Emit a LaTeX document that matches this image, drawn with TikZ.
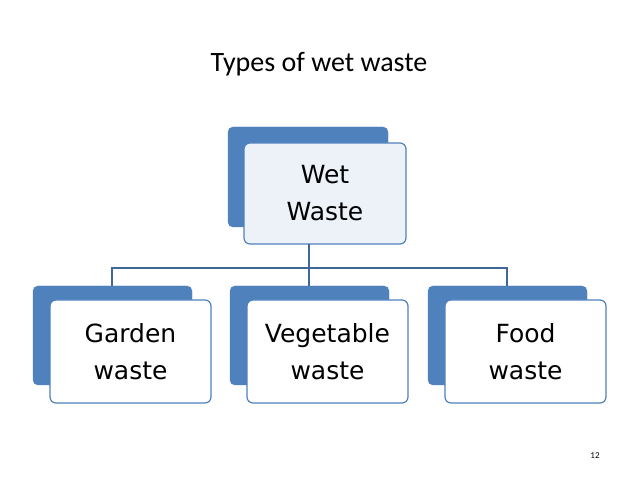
\documentclass[tikz,border=0pt]{standalone}
\usepackage{fontspec}
\setmainfont{Carlito}
\newfontfamily\boxfont{DejaVu Sans}
\definecolor{bl}{HTML}{4F81BD}
\definecolor{lt}{HTML}{EDF2F9}
\begin{document}
\begin{tikzpicture}[x=1pt,y=-1pt,
  backbox/.style={fill=bl,draw=bl,rounded corners=5pt},
  frontbox/.style={draw=bl,line width=1.2pt,rounded corners=6pt,align=center,font=\boxfont\fontsize{25}{37}\selectfont,inner sep=0pt},
  conn/.style={draw=bl!80!black,line width=1.5pt}]
\useasboundingbox (0,0) rectangle (638,478);
\node[font=\fontsize{28}{32}\selectfont] (title) at (319,64) {Types of wet waste};
\node[font=\fontsize{9}{11}\selectfont] (pg) at (595,456) {12};
\fill[backbox] (228,127) rectangle (388,227);
\node[frontbox,fill=lt,minimum width=162,minimum height=101] (wet) at (325,193.5) {Wet\\Waste};
\foreach \n/\x/\t in {g/33/Garden\\waste, v/230/Vegetable\\waste, f/428/Food\\waste}{
  \fill[backbox] (\x,286) rectangle (\x+159,385);
  \node[frontbox,fill=white,minimum width=161,minimum height=103] (\n) at (\x+97.5,351.5) {\t};
}
\coordinate (j) at (309,268);
\draw[conn] (309,244) -- (j);
\draw[conn] (112,286) |- (j) -| (507,286);
\draw[conn] (j) -- (309,286);
\end{tikzpicture}
\end{document}
